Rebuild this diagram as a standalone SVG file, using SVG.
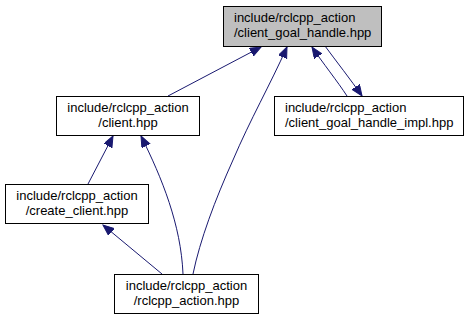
<svg xmlns="http://www.w3.org/2000/svg" width="469" height="320" viewBox="0 0 469 320">
<style>
  .box { fill: #ffffff; stroke: #000000; stroke-width: 1; }
  .cur { fill: #bfbfbf; stroke: #000000; stroke-width: 1; }
  .lbl { font-family: "Liberation Sans", Arial, sans-serif; font-size: 13px; fill: #000000; }
  .mid { text-anchor: middle; }
  .edge { fill: none; stroke: #191970; stroke-width: 1; marker-end: url(#arr); }
</style>
<defs>
  <marker id="arr" markerUnits="userSpaceOnUse" markerWidth="12" markerHeight="10" refX="11" refY="4.5" orient="auto">
    <path d="M0,0 L11,4.5 L0,9 z" fill="#191970" stroke="#191970" stroke-width="1"/>
  </marker>
</defs>
<rect width="469" height="320" fill="#ffffff"/>
<g id="connectors">
  <path class="edge" d="M168,96 L261,47"/>
  <path class="edge" d="M193,274 C200,240 215,200 233,160 C250,120 270,85 287,47"/>
  <path class="edge" d="M347,96 C338,82 322,62 312,47"/>
  <path class="edge" d="M325,46 C336,61 351,80 362,96"/>
  <path class="edge" d="M88,184 L113,136"/>
  <path class="edge" d="M183,274 C181,225 162,178 141,136"/>
  <path class="edge" d="M162,274 L103,225"/>
</g>
<g id="node_client_goal_handle">
  <rect class="cur" x="223.5" y="6.5" width="158" height="40"/>
  <text class="lbl" x="234" y="22">include/rclcpp_action</text>
  <text class="lbl" x="234" y="37">/client_goal_handle.hpp</text>
</g>
<g id="node_client">
  <rect class="box" x="56.5" y="96.5" width="143" height="39"/>
  <text class="lbl mid" x="128" y="111.5">include/rclcpp_action</text>
  <text class="lbl mid" x="128" y="126.5">/client.hpp</text>
</g>
<g id="node_client_goal_handle_impl">
  <rect class="box" x="274.5" y="96.5" width="189" height="39"/>
  <text class="lbl" x="285" y="111.5">include/rclcpp_action</text>
  <text class="lbl" x="285" y="126.5">/client_goal_handle_impl.hpp</text>
</g>
<g id="node_create_client">
  <rect class="box" x="5.5" y="184.5" width="143" height="39"/>
  <text class="lbl mid" x="77" y="200">include/rclcpp_action</text>
  <text class="lbl mid" x="77" y="215">/create_client.hpp</text>
</g>
<g id="node_rclcpp_action">
  <rect class="box" x="114.5" y="274.5" width="144" height="39"/>
  <text class="lbl mid" x="186.5" y="290">include/rclcpp_action</text>
  <text class="lbl mid" x="186.5" y="305">/rclcpp_action.hpp</text>
</g>
</svg>
